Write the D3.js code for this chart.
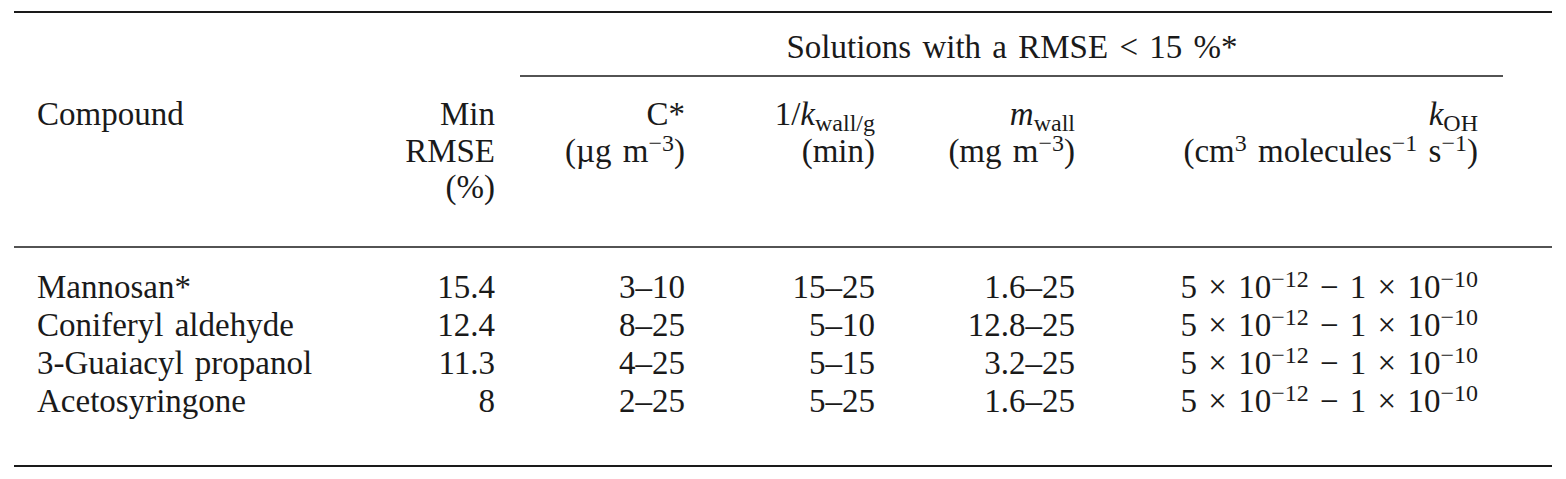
<!DOCTYPE html>
<html>
<head>
<meta charset="utf-8">
<title>RMSE table</title>
<script src="https://cdnjs.cloudflare.com/ajax/libs/d3/7.8.5/d3.min.js"></script>
<style>
body { margin: 0; background: #fff; overflow: hidden; }
text { font-family: "Liberation Serif", "DejaVu Serif", serif; font-size: 33px; word-spacing: 3px; fill: #1a1a1a; }
</style>
</head>
<body>
<svg id="tbl" width="1566" height="479"></svg>
<script>
// table contents
var compounds = ["Mannosan*", "Coniferyl aldehyde", "3-Guaiacyl propanol", "Acetosyringone"];
var minRmse = ["15.4", "12.4", "11.3", "8"];
var cStar = ["3–10", "8–25", "4–25", "2–25"];
var kWall = ["15–25", "5–10", "5–15", "5–25"];
var mWall = ["1.6–25", "12.8–25", "3.2–25", "1.6–25"];
var kOH = ["5e-12–1e-10", "5e-12–1e-10", "5e-12–1e-10", "5e-12–1e-10"];

var svg = d3.select("#tbl");

// row layout
var y = d3.scaleBand().domain(d3.range(compounds.length)).range([268, 420]);

// right edges of numeric columns
var colRight = [495, 685, 875, 1075, 1478];

function rule(x1, x2, yy, w) {
  svg.append("line").attr("x1", x1).attr("x2", x2).attr("y1", yy).attr("y2", yy)
    .attr("stroke", "#1a1a1a").attr("stroke-width", w);
}
rule(14, 1552, 12, 2);
rule(520, 1503, 76, 1.5);
rule(14, 1552, 247, 1.5);
rule(14, 1552, 466, 2);

// text with parts: [string, "sup"|"sub"|"it"|null]
function rich(x, yy, parts, anchor) {
  var t = svg.append("text").attr("x", x).attr("y", yy).attr("text-anchor", anchor || "start");
  parts.forEach(function(p) {
    var s = t.append("tspan").text(p[0]);
    if (p[1] === "sup") s.attr("baseline-shift", "45%").style("font-size", "24px");
    if (p[1] === "sub") s.attr("baseline-shift", "-25%").style("font-size", "24px");
    if (p[1] === "it") s.style("font-style", "italic");
  });
  return t;
}

rich(1012, 58, [["Solutions with a RMSE < 15 %*"]], "middle");
rich(37, 125, [["Compound"]]);
rich(colRight[0], 125, [["Min"]], "end");
rich(colRight[0], 162, [["RMSE"]], "end");
rich(colRight[0], 198, [["(%)", null]], "end");

rich(colRight[1], 125, [["C*"]], "end");
rich(colRight[1], 162, [["(µg m"], ["−3", "sup"], [")"]], "end");
rich(colRight[2], 125, [["1/"], ["k", "it"], ["wall/g", "sub"]], "end");
rich(colRight[2], 162, [["(min)"]], "end");
rich(colRight[3], 125, [["m", "it"], ["wall", "sub"]], "end");
rich(colRight[3], 162, [["(mg m"], ["−3", "sup"], [")"]], "end");
rich(colRight[4], 125, [["k", "it"], ["OH", "sub"]], "end");
rich(colRight[4], 162, [["(cm"], ["3", "sup"], [" molecules"], ["−1", "sup"], [" s"], ["−1", "sup"], [")"]], "end");

function kohParts(s) {
  var m = s.split("–").map(function(v) { return v.split("e"); });
  return [[m[0][0] + " × 10"], [m[0][1].replace("-", "−"), "sup"], [" − " + m[1][0] + " × 10"], [m[1][1].replace("-", "−"), "sup"]];
}

compounds.forEach(function(c, i) {
  var yy = y(i) + 30;
  rich(37, yy, [[c]]);
  rich(colRight[0], yy, [[minRmse[i]]], "end");
  rich(colRight[1], yy, [[cStar[i]]], "end");
  rich(colRight[2], yy, [[kWall[i]]], "end");
  rich(colRight[3], yy, [[mWall[i]]], "end");
  rich(colRight[4], yy, kohParts(kOH[i]), "end");
});
</script>
</body>
</html>
